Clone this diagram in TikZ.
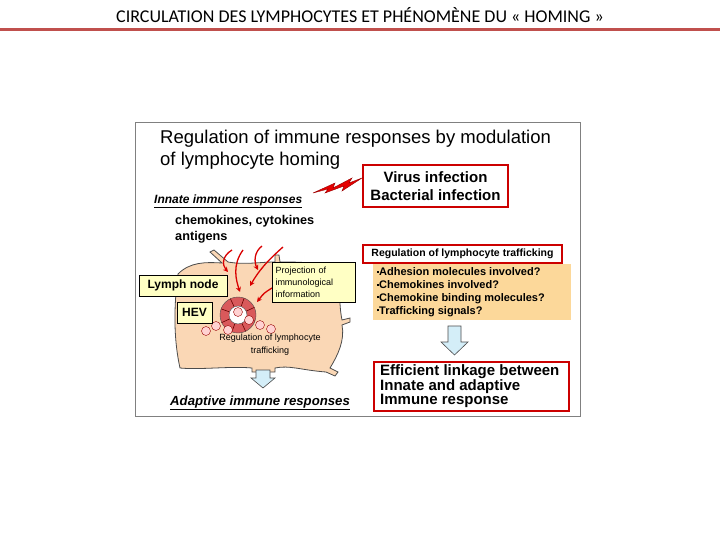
\documentclass[tikz,border=0pt]{standalone}
\usepackage{fontspec}
\setmainfont{Liberation Sans}
\newfontfamily\carl{Carlito}
\usetikzlibrary{arrows.meta,shapes.arrows}
\definecolor{hdr}{HTML}{C0504D}
\definecolor{peach}{HTML}{FAD7B5}
\definecolor{orng}{HTML}{FCD89A}
\definecolor{yel}{HTML}{FFFFC4}
\definecolor{ltblue}{HTML}{D4EEF8}
\definecolor{ring}{HTML}{D9595B}
\tikzset{
 redbox/.style={draw=red!80!black,line width=1.5pt,fill=white},
 ybox/.style={draw=black,line width=1pt,fill=yel},
 txt/.style={inner sep=0pt,anchor=west},
 redarr/.style={draw=red!85!black,line width=1.3pt,-{Stealth[length=5pt,width=5pt]}},
 bluearr/.style={draw=gray!60!black,fill=ltblue,line width=0.6pt},
 dot/.style={circle,draw=red!60!black,fill=pink!70,minimum size=9pt,inner sep=0pt},
}
\newcommand{\bdot}{\rule[0.25em]{0.18em}{0.18em}}
\begin{document}
\begin{tikzpicture}[x=1pt,y=-1pt]
\useasboundingbox (0,0) rectangle (720,540);
\node[font=\carl\fontsize{18}{20}\selectfont] (hd) at (360,15) {CIRCULATION DES LYMPHOCYTES ET PHÉNOMÈNE DU « HOMING »};
\draw[hdr,line width=3pt] (0,30) -- (720,30);
\draw[gray,line width=0.8pt,fill=white] (135,122) rectangle (580,416);
\node[txt,font=\fontsize{18.5}{20}\selectfont] (t1) at (160,139) {Regulation of immune responses by modulation};
\node[txt,font=\fontsize{18.5}{20}\selectfont] (t2) at (160,161) {of lymphocyte homing};
% lymph node blob
\draw[fill=peach,draw=black!70,line width=0.8pt] (178,274) .. controls (190,262) and (205,262) .. (222,263)
 -- (210,252) -- (214,250) -- (228,262) .. controls (245,265) and (260,262) .. (275,262) -- (275,255) -- (279,255) -- (280,262)
 .. controls (300,262) and (320,262) .. (335,270)
 .. controls (342,290) and (338,300) .. (342,320) -- (350,318) -- (350,322) -- (342,325)
 .. controls (345,340) and (338,355) .. (330,368) -- (338,372) -- (335,376) -- (326,372)
 .. controls (300,370) and (290,365) .. (275,368) -- (275,372) -- (252,372) -- (252,368)
 .. controls (230,366) and (200,370) .. (180,368) .. controls (176,350) and (172,320) .. (178,274) -- cycle;
% red arrows
\draw[redarr] (232,250) .. controls (222,256) and (222,265) .. (228,272);
\draw[redarr] (243,250) .. controls (232,265) and (236,280) .. (240,292);
\draw[redarr] (262,246) .. controls (254,252) and (254,262) .. (258,270);
\draw[redarr] (283,247) .. controls (266,262) and (258,272) .. (250,286);
\draw[redarr] (272,288) .. controls (264,293) .. (257,302);
% ring
\node[circle,fill=ring,draw=black!70,minimum size=36pt,inner sep=0pt] (ring) at (238,315) {};
\foreach \a in {20,65,...,335} \draw[red!40!black,line width=0.6pt] (238,315) ++(\a:9) -- ++(\a:9);
\node[circle,fill=white,draw=black!70,minimum size=18pt,inner sep=0pt] (lumen) at (238,315) {};
\node[dot] (d0) at (238,312) {};
\node[dot] (d1) at (249,320) {};
\node[dot] (d2) at (260,325) {};
\node[dot] (d3) at (271,329) {};
\node[dot] (d4) at (216,326) {};
\node[dot] (d5) at (206,331) {};
\node[dot] (d6) at (228,330) {};
\node[font=\fontsize{9}{10}\selectfont] (rl1) at (270,338) {Regulation of lymphocyte};
\node[font=\fontsize{9}{10}\selectfont] (rl2) at (270,351) {trafficking};
% label boxes
\node[ybox,minimum width=88pt,minimum height=21pt,inner sep=0pt,font=\bfseries\fontsize{12}{14}\selectfont] (ln) at (183,285.5) {Lymph node};
\node[ybox,minimum width=35pt,minimum height=21pt,inner sep=0pt,font=\bfseries\fontsize{12}{14}\selectfont] (hev) at (194.5,312.5) {HEV};
\node[ybox,minimum width=83pt,minimum height=40pt,inner sep=0pt,align=left,text width=76pt,font=\fontsize{9}{12}\selectfont] (proj) at (313.5,282) {Projection of\\immunological\\information};
% innate
\node[txt,font=\bfseries\itshape\fontsize{12}{14}\selectfont] (inn) at (154,201) {\underline{Innate immune responses}};
\node[txt,align=left,font=\bfseries\fontsize{12.7}{16}\selectfont] (chem) at (175,229) {chemokines, cytokines\\antigens};
% virus
\node[redbox,minimum width=145pt,minimum height=42pt,inner sep=0pt,align=center,font=\bfseries\fontsize{15}{18}\selectfont] (vir) at (435.5,186) {Virus infection\\Bacterial infection};
\draw[fill=red!90!black,draw=red!60!black] (313,193) -- (335,183) -- (333,188) -- (352,178) -- (349,183) -- (362,178) -- (342,191) -- (344,186) -- (325,193) -- (328,189) -- cycle;
% trafficking
\node[fill=orng,minimum width=198pt,minimum height=56pt,inner sep=0pt] (org) at (472,292) {};
\node[redbox,minimum width=199pt,minimum height=18pt,inner sep=0pt,font=\bfseries\fontsize{10.5}{11}\selectfont] (rt) at (462.5,254) {Regulation of lymphocyte trafficking};
\node[txt,align=left,font=\bfseries\fontsize{11}{12.8}\selectfont] (bul) at (377,292) {\bdot Adhesion molecules involved?\\\bdot Chemokines involved?\\\bdot Chemokine binding molecules?\\\bdot Trafficking signals?};
\draw[bluearr] (448,326) -- (461,326) -- (461,342) -- (468,342) -- (454.5,355) -- (441,342) -- (448,342) -- cycle;
\node[redbox,minimum width=195pt,minimum height=49pt,inner sep=0pt] (eff) at (471.5,386.5) {};
\node[txt,align=left,font=\bfseries\fontsize{15}{14}\selectfont] (efft) at (380,386.5) {Efficient linkage between\\Innate and adaptive\\Immune response};
% small arrow & adaptive
\draw[bluearr] (256,370) -- (270,370) -- (270,378) -- (275,378) -- (263,388) -- (251,378) -- (256,378) -- cycle;
\node[txt,font=\bfseries\itshape\fontsize{13.2}{14}\selectfont] (ad) at (170,403) {\underline{Adaptive immune responses}};
\end{tikzpicture}
\end{document}
